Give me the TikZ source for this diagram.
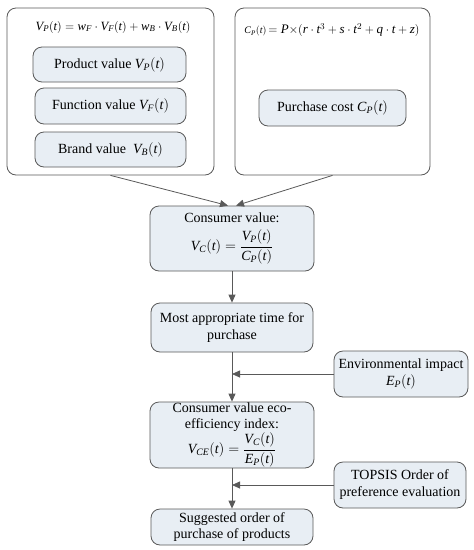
\documentclass[tikz,border=0pt]{standalone}
\usepackage{amsmath}
\usepackage{fontspec}
\setmainfont{Liberation Serif}
\usetikzlibrary{arrows.meta}
\makeatletter
\edef\tl@fam{\rmdefault}
\expandafter\DeclareSymbolFont\expandafter{\expandafter t\expandafter l\expandafter e\expandafter t\expandafter t\expandafter e\expandafter r\expandafter s\expandafter}\expandafter{\expandafter T\expandafter U\expandafter}\expandafter{\tl@fam}{m}{it}
\makeatother
\DeclareMathSymbol{V}{\mathalpha}{tletters}{`V}
\DeclareMathSymbol{P}{\mathalpha}{tletters}{`P}
\DeclareMathSymbol{F}{\mathalpha}{tletters}{`F}
\DeclareMathSymbol{B}{\mathalpha}{tletters}{`B}
\DeclareMathSymbol{C}{\mathalpha}{tletters}{`C}
\DeclareMathSymbol{E}{\mathalpha}{tletters}{`E}
\DeclareMathSymbol{w}{\mathalpha}{tletters}{`w}
\DeclareMathSymbol{t}{\mathalpha}{tletters}{`t}
\DeclareMathSymbol{r}{\mathalpha}{tletters}{`r}
\DeclareMathSymbol{s}{\mathalpha}{tletters}{`s}
\DeclareMathSymbol{q}{\mathalpha}{tletters}{`q}
\DeclareMathSymbol{z}{\mathalpha}{tletters}{`z}
\definecolor{boxfill}{HTML}{E8EEF4}
\definecolor{edge}{HTML}{595959}
\tikzset{
  bigbox/.style={draw=edge, line width=0.8pt, rounded corners=9pt, fill=white, inner sep=0pt},
  flowbox/.style={draw=edge, line width=0.8pt, rounded corners=9pt, fill=boxfill, inner sep=0pt, align=center,
     font=\fontsize{14}{17}\selectfont},
  link/.style={draw=edge, line width=0.8pt},
  arr/.style={link, -{Triangle[length=8pt,width=7pt]}},
}
\begin{document}
\begin{tikzpicture}[x=1pt,y=-1pt]
\useasboundingbox (0,0) rectangle (474,550);
% big boxes
\node[bigbox, minimum width=207pt, minimum height=167pt] (L) at (110.5,91.5) {};
\node[bigbox, minimum width=195pt, minimum height=167pt] (R) at (332.5,91.5) {};
% formulas
\node[inner sep=0pt, font=\fontsize{12.6}{15}\selectfont] (fl) at (113,27) {$V_P(t) = w_F\cdot V_F(t) + w_B\cdot V_B(t)$};
\node[inner sep=0pt, font=\fontsize{13}{15}\selectfont] (fr) at (332,30) {{\fontsize{10}{12}\selectfont$C_P(t)$}$\,= P{\times}(r\cdot t^3 + s\cdot t^2 + q\cdot t + z)$};
% inner boxes
\node[flowbox, minimum width=153pt, minimum height=35pt] (pv) at (109.5,64.5) {Product value $V_P(t)$};
\node[flowbox, minimum width=151pt, minimum height=36pt] (fv) at (110.5,106) {Function value $V_F(t)$};
\node[flowbox, minimum width=151pt, minimum height=35pt] (bv) at (110.5,149.5) {Brand value\ \ $V_B(t)$};
\node[flowbox, minimum width=147pt, minimum height=36pt] (pc) at (332.5,108) {Purchase cost $C_P(t)$};
% flow
\node[flowbox, minimum width=164pt, minimum height=65pt] (cv) at (232,238.5)
  {Consumer value:\\[6pt] $V_C(t)=\dfrac{V_P(t)}{C_P(t)}$};
\node[flowbox, minimum width=162pt, minimum height=49pt] (ma) at (232,327.5)
  {Most appropriate time for\\ purchase};
\node[flowbox, minimum width=134pt, minimum height=46pt] (env) at (401,374)
  {Environmental impact\\ $E_P(t)$};
\node[flowbox, minimum width=164pt, minimum height=66pt, font=\fontsize{14}{16}\selectfont] (eco) at (232,435)
  {Consumer value eco-\\ efficiency index:\\ $V_{CE}(t)=\dfrac{V_C(t)}{E_P(t)}$};
\node[flowbox, minimum width=132pt, minimum height=46pt] (top) at (400,485)
  {TOPSIS Order of\\ preference evaluation};
\node[flowbox, minimum width=162pt, minimum height=36pt, font=\fontsize{14}{16}\selectfont] (sug) at (232,527)
  {Suggested order of\\ purchase of products};
% connectors
\draw[arr] (L.south) -- ([xshift=-4pt]cv.north);
\draw[arr] (R.south) -- ([xshift=4pt]cv.north);
\draw[arr] (cv.south) -- (ma.north);
\draw[arr] (ma.south) -- (eco.north);
\draw[arr] (eco.south) -- (sug.north);
\draw[arr] (env.west) -- (env.west -| ma.south);
\draw[arr] (top.west) -- (top.west -| eco.south);
\end{tikzpicture}
\end{document}
